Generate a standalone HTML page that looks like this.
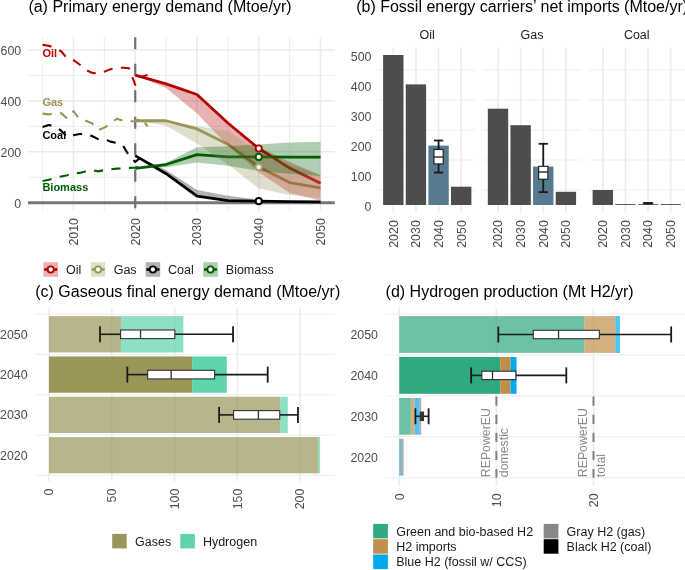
<!DOCTYPE html>
<html><head><meta charset="utf-8"><style>
html,body{margin:0;padding:0;background:#fff;}
svg{display:block;will-change:transform;font-family:"Liberation Sans",sans-serif;}
</style></head><body>
<svg width="685" height="570" viewBox="0 0 685 570">
<rect width="685" height="570" fill="#fff"/>
<text x="28.4" y="11.8" font-size="16.0" fill="#000" text-anchor="start" >(a) Primary energy demand (Mtoe/yr)</text>
<line x1="28" y1="177.25" x2="334.7" y2="177.25" stroke="#EBEBEB" stroke-width="0.9" />
<line x1="28" y1="126.35" x2="334.7" y2="126.35" stroke="#EBEBEB" stroke-width="0.9" />
<line x1="28" y1="75.45" x2="334.7" y2="75.45" stroke="#EBEBEB" stroke-width="0.9" />
<line x1="42.6" y1="37.2" x2="42.6" y2="210.7" stroke="#EBEBEB" stroke-width="0.9" />
<line x1="104.36" y1="37.2" x2="104.36" y2="210.7" stroke="#EBEBEB" stroke-width="0.9" />
<line x1="166.11" y1="37.2" x2="166.11" y2="210.7" stroke="#EBEBEB" stroke-width="0.9" />
<line x1="227.87" y1="37.2" x2="227.87" y2="210.7" stroke="#EBEBEB" stroke-width="0.9" />
<line x1="289.62" y1="37.2" x2="289.62" y2="210.7" stroke="#EBEBEB" stroke-width="0.9" />
<line x1="28" y1="202.7" x2="334.7" y2="202.7" stroke="#EBEBEB" stroke-width="1.6" />
<line x1="28" y1="151.8" x2="334.7" y2="151.8" stroke="#EBEBEB" stroke-width="1.6" />
<line x1="28" y1="100.9" x2="334.7" y2="100.9" stroke="#EBEBEB" stroke-width="1.6" />
<line x1="28" y1="50" x2="334.7" y2="50" stroke="#EBEBEB" stroke-width="1.6" />
<line x1="73.48" y1="37.2" x2="73.48" y2="210.7" stroke="#EBEBEB" stroke-width="1.6" />
<line x1="135.23" y1="37.2" x2="135.23" y2="210.7" stroke="#EBEBEB" stroke-width="1.6" />
<line x1="196.99" y1="37.2" x2="196.99" y2="210.7" stroke="#EBEBEB" stroke-width="1.6" />
<line x1="258.75" y1="37.2" x2="258.75" y2="210.7" stroke="#EBEBEB" stroke-width="1.6" />
<line x1="320.5" y1="37.2" x2="320.5" y2="210.7" stroke="#EBEBEB" stroke-width="1.6" />
<text x="21.2" y="203.3" font-size="12.4" fill="#4D4D4D" text-anchor="end" dy="0.35em">0</text>
<text x="21.2" y="152.4" font-size="12.4" fill="#4D4D4D" text-anchor="end" dy="0.35em">200</text>
<text x="21.2" y="101.5" font-size="12.4" fill="#4D4D4D" text-anchor="end" dy="0.35em">400</text>
<text x="21.2" y="50.6" font-size="12.4" fill="#4D4D4D" text-anchor="end" dy="0.35em">600</text>
<text transform="translate(73.48,218) rotate(-90)" font-size="12.4" fill="#4D4D4D" text-anchor="end" dy="0.35em">2010</text>
<text transform="translate(135.23,218) rotate(-90)" font-size="12.4" fill="#4D4D4D" text-anchor="end" dy="0.35em">2020</text>
<text transform="translate(196.99,218) rotate(-90)" font-size="12.4" fill="#4D4D4D" text-anchor="end" dy="0.35em">2030</text>
<text transform="translate(258.75,218) rotate(-90)" font-size="12.4" fill="#4D4D4D" text-anchor="end" dy="0.35em">2040</text>
<text transform="translate(320.5,218) rotate(-90)" font-size="12.4" fill="#4D4D4D" text-anchor="end" dy="0.35em">2050</text>
<line x1="28" y1="202.7" x2="334.7" y2="202.7" stroke="#777777" stroke-width="3.0" />
<line x1="135.23" y1="37.2" x2="135.23" y2="210.7" stroke="#707070" stroke-width="2.2" stroke-dasharray="12 14.5"/>
<polyline points="42.6,44.91 48.78,45.67 54.95,48.22 61.13,51.27 67.3,58.4 73.48,60.18 79.65,64.51 85.83,69.85 92,72.9 98.18,73.41 104.36,71.63 110.53,69.34 116.71,67.81 122.88,67.81 129.06,68.32 135.23,84.87 141.41,76.72 147.59,74.94" fill="none" stroke="#B50000" stroke-width="2.1" stroke-linejoin="round" stroke-dasharray="9.2 8.4" stroke-linecap="butt"/>
<polyline points="42.6,113.62 48.78,114.39 54.95,113.12 61.13,113.12 67.3,118.71 73.48,111.08 79.65,119.22 85.83,120.75 92,123.3 98.18,130.17 104.36,127.62 110.53,123.8 116.71,118.71 122.88,120.75 129.06,120.75 135.23,121.77 141.41,117.95 147.59,126.35" fill="none" stroke="#999658" stroke-width="2.1" stroke-linejoin="round" stroke-dasharray="9.2 8.4" stroke-linecap="butt"/>
<polyline points="42.6,127.11 48.78,125.08 54.95,126.35 61.13,130.68 67.3,137.04 73.48,135.26 79.65,133.98 85.83,133.98 92,136.02 98.18,139.07 104.36,139.07 110.53,141.62 116.71,142.89 122.88,145.44 129.06,155.62 135.23,161.98 141.41,156.89 147.59,155.62" fill="none" stroke="#000000" stroke-width="2.1" stroke-linejoin="round" stroke-dasharray="9.2 8.4" stroke-linecap="butt"/>
<polyline points="42.6,181.07 48.78,179.79 54.95,178.01 61.13,176.49 67.3,175.21 73.48,173.43 79.65,172.92 85.83,171.14 92,170.12 98.18,171.4 104.36,170.12 110.53,169.36 116.71,168.6 122.88,168.34 129.06,167.83 135.23,167.58 141.41,166.56 147.59,167.07" fill="none" stroke="#005E00" stroke-width="2.1" stroke-linejoin="round" stroke-dasharray="9.2 8.4" stroke-linecap="butt"/>
<polyline points="135.23,75.2 166.11,83.85 196.99,94.54 227.87,123.04 258.75,148.49 289.62,168.09 320.5,183.36" fill="none" stroke="#B50000" stroke-width="2.8" stroke-linejoin="round" />
<polyline points="135.23,120.75 166.11,120.75 196.99,128.89 227.87,144.16 258.75,167.07 289.62,182.59 320.5,187.94" fill="none" stroke="#999658" stroke-width="2.8" stroke-linejoin="round" />
<polyline points="135.23,155.62 166.11,173.69 196.99,196.08 227.87,200.66 258.75,201.17 289.62,201.68 320.5,201.94" fill="none" stroke="#000000" stroke-width="2.8" stroke-linejoin="round" />
<polyline points="135.23,168.34 166.11,164.52 196.99,154.6 227.87,156.89 258.75,156.89 289.62,157.14 320.5,157.14" fill="none" stroke="#005E00" stroke-width="2.8" stroke-linejoin="round" />
<polygon points="135.23,75.2 166.11,83.85 196.99,94.54 227.87,123.04 258.75,146.71 289.62,161.98 320.5,175.21 320.5,200.66 289.62,193.03 258.75,172.16 227.87,145.44 196.99,113.62 166.11,87.92 135.23,75.2" fill="#B50000" fill-opacity="0.3"/>
<polygon points="135.23,120.75 166.11,120.5 196.99,126.35 227.87,130.93 258.75,151.8 289.62,164.52 320.5,175.21 320.5,197.86 289.62,195.06 258.75,188.45 227.87,164.52 196.99,143.4 166.11,125.84 135.23,120.75" fill="#999658" fill-opacity="0.3"/>
<polygon points="135.23,155.62 166.11,170.12 196.99,189.97 227.87,195.83 258.75,199.65 289.62,201.17 320.5,201.68 320.5,202.45 289.62,202.19 258.75,201.68 227.87,200.66 196.99,196.08 166.11,173.69 135.23,155.62" fill="#000000" fill-opacity="0.3"/>
<polygon points="135.23,168.34 166.11,162.74 196.99,147.22 227.87,146.2 258.75,144.42 289.62,142.38 320.5,141.87 320.5,175.98 289.62,173.69 258.75,170.89 227.87,165.8 196.99,162.49 166.11,167.32 135.23,168.34" fill="#005E00" fill-opacity="0.3"/>
<circle cx="258.75" cy="148.49" r="3.1" fill="#fff" stroke="#B50000" stroke-width="1.9"/>
<circle cx="258.75" cy="156.89" r="3.1" fill="#fff" stroke="#005E00" stroke-width="1.9"/>
<circle cx="258.75" cy="167.07" r="3.1" fill="#fff" stroke="#A8A470" stroke-width="1.9"/>
<circle cx="258.75" cy="201.17" r="3.1" fill="#fff" stroke="#000000" stroke-width="1.9"/>
<g font-weight="bold" font-size="11">
<text x="42.4" y="56.8" font-size="11" fill="#B50000" text-anchor="start" >Oil</text>
<text x="42.4" y="106" font-size="11" fill="#999658" text-anchor="start" >Gas</text>
<text x="42.4" y="139" font-size="11" fill="#000" text-anchor="start" >Coal</text>
<text x="42.4" y="190.7" font-size="11" fill="#005E00" text-anchor="start" >Biomass</text>
</g>
<rect x="43.4" y="262.2" width="14.6" height="14.6" fill="#B50000" fill-opacity="0.3"/>
<line x1="44.2" y1="269.5" x2="57.2" y2="269.5" stroke="#B50000" stroke-width="2.6" />
<circle cx="50.7" cy="269.5" r="3.1" fill="#fff" stroke="#B50000" stroke-width="1.9"/>
<text x="66" y="269.5" font-size="12.5" fill="#1A1A1A" text-anchor="start" dy="0.35em">Oil</text>
<rect x="90.8" y="262.2" width="14.6" height="14.6" fill="#999658" fill-opacity="0.3"/>
<line x1="91.6" y1="269.5" x2="104.6" y2="269.5" stroke="#999658" stroke-width="2.6" />
<circle cx="98.1" cy="269.5" r="3.1" fill="#fff" stroke="#999658" stroke-width="1.9"/>
<text x="113.7" y="269.5" font-size="12.5" fill="#1A1A1A" text-anchor="start" dy="0.35em">Gas</text>
<rect x="145.6" y="262.2" width="14.6" height="14.6" fill="#000000" fill-opacity="0.3"/>
<line x1="146.4" y1="269.5" x2="159.4" y2="269.5" stroke="#000000" stroke-width="2.6" />
<circle cx="152.9" cy="269.5" r="3.1" fill="#fff" stroke="#000000" stroke-width="1.9"/>
<text x="168.1" y="269.5" font-size="12.5" fill="#1A1A1A" text-anchor="start" dy="0.35em">Coal</text>
<rect x="203.2" y="262.2" width="14.6" height="14.6" fill="#005E00" fill-opacity="0.3"/>
<line x1="204" y1="269.5" x2="217" y2="269.5" stroke="#005E00" stroke-width="2.6" />
<circle cx="210.5" cy="269.5" r="3.1" fill="#fff" stroke="#005E00" stroke-width="1.9"/>
<text x="225.8" y="269.5" font-size="12.5" fill="#1A1A1A" text-anchor="start" dy="0.35em">Biomass</text>
<text x="356.2" y="11.8" font-size="16.0" fill="#000" text-anchor="start" >(b) Fossil energy carriers’ net imports (Mtoe/yr)</text>
<text x="371.5" y="206.2" font-size="12.4" fill="#4D4D4D" text-anchor="end" dy="0.35em">0</text>
<text x="371.5" y="176.2" font-size="12.4" fill="#4D4D4D" text-anchor="end" dy="0.35em">100</text>
<text x="371.5" y="146.2" font-size="12.4" fill="#4D4D4D" text-anchor="end" dy="0.35em">200</text>
<text x="371.5" y="116.2" font-size="12.4" fill="#4D4D4D" text-anchor="end" dy="0.35em">300</text>
<text x="371.5" y="86.2" font-size="12.4" fill="#4D4D4D" text-anchor="end" dy="0.35em">400</text>
<text x="371.5" y="56.2" font-size="12.4" fill="#4D4D4D" text-anchor="end" dy="0.35em">500</text>
<line x1="378.82" y1="190" x2="475.67" y2="190" stroke="#EBEBEB" stroke-width="0.9" />
<line x1="378.82" y1="160" x2="475.67" y2="160" stroke="#EBEBEB" stroke-width="0.9" />
<line x1="378.82" y1="130" x2="475.67" y2="130" stroke="#EBEBEB" stroke-width="0.9" />
<line x1="378.82" y1="100" x2="475.67" y2="100" stroke="#EBEBEB" stroke-width="0.9" />
<line x1="378.82" y1="70" x2="475.67" y2="70" stroke="#EBEBEB" stroke-width="0.9" />
<line x1="393.3" y1="47.3" x2="393.3" y2="212.5" stroke="#EBEBEB" stroke-width="1.6" />
<line x1="415.93" y1="47.3" x2="415.93" y2="212.5" stroke="#EBEBEB" stroke-width="1.6" />
<line x1="438.56" y1="47.3" x2="438.56" y2="212.5" stroke="#EBEBEB" stroke-width="1.6" />
<line x1="461.19" y1="47.3" x2="461.19" y2="212.5" stroke="#EBEBEB" stroke-width="1.6" />
<text x="427.25" y="34.9" font-size="12.5" fill="#1A1A1A" text-anchor="middle" dy="0.35em">Oil</text>
<rect x="383.12" y="55" width="20.37" height="150" fill="#4D4D4D" />
<text transform="translate(393.3,220.2) rotate(-90)" font-size="12.4" fill="#4D4D4D" text-anchor="end" dy="0.35em">2020</text>
<rect x="405.75" y="84.4" width="20.37" height="120.6" fill="#4D4D4D" />
<text transform="translate(415.93,220.2) rotate(-90)" font-size="12.4" fill="#4D4D4D" text-anchor="end" dy="0.35em">2030</text>
<rect x="428.38" y="145.6" width="20.37" height="59.4" fill="#587A90" />
<text transform="translate(438.56,220.2) rotate(-90)" font-size="12.4" fill="#4D4D4D" text-anchor="end" dy="0.35em">2040</text>
<rect x="451.01" y="186.7" width="20.37" height="18.3" fill="#4D4D4D" />
<text transform="translate(461.19,220.2) rotate(-90)" font-size="12.4" fill="#4D4D4D" text-anchor="end" dy="0.35em">2050</text>
<line x1="438.56" y1="140.5" x2="438.56" y2="149.5" stroke="#1A1A1A" stroke-width="1.8" />
<line x1="438.56" y1="163.9" x2="438.56" y2="172.6" stroke="#1A1A1A" stroke-width="1.8" />
<line x1="433.96" y1="140.5" x2="443.16" y2="140.5" stroke="#1A1A1A" stroke-width="1.8" />
<line x1="433.96" y1="172.6" x2="443.16" y2="172.6" stroke="#1A1A1A" stroke-width="1.8" />
<rect x="433.96" y="149.5" width="9.2" height="14.4" fill="#fff" stroke="#1A1A1A" stroke-width="1.1"/>
<line x1="433.96" y1="157" x2="443.16" y2="157" stroke="#1A1A1A" stroke-width="1.3" />
<line x1="483.52" y1="190" x2="580.37" y2="190" stroke="#EBEBEB" stroke-width="0.9" />
<line x1="483.52" y1="160" x2="580.37" y2="160" stroke="#EBEBEB" stroke-width="0.9" />
<line x1="483.52" y1="130" x2="580.37" y2="130" stroke="#EBEBEB" stroke-width="0.9" />
<line x1="483.52" y1="100" x2="580.37" y2="100" stroke="#EBEBEB" stroke-width="0.9" />
<line x1="483.52" y1="70" x2="580.37" y2="70" stroke="#EBEBEB" stroke-width="0.9" />
<line x1="498" y1="47.3" x2="498" y2="212.5" stroke="#EBEBEB" stroke-width="1.6" />
<line x1="520.63" y1="47.3" x2="520.63" y2="212.5" stroke="#EBEBEB" stroke-width="1.6" />
<line x1="543.26" y1="47.3" x2="543.26" y2="212.5" stroke="#EBEBEB" stroke-width="1.6" />
<line x1="565.89" y1="47.3" x2="565.89" y2="212.5" stroke="#EBEBEB" stroke-width="1.6" />
<text x="531.94" y="34.9" font-size="12.5" fill="#1A1A1A" text-anchor="middle" dy="0.35em">Gas</text>
<rect x="487.82" y="108.7" width="20.37" height="96.3" fill="#4D4D4D" />
<text transform="translate(498,220.2) rotate(-90)" font-size="12.4" fill="#4D4D4D" text-anchor="end" dy="0.35em">2020</text>
<rect x="510.45" y="125.2" width="20.37" height="79.8" fill="#4D4D4D" />
<text transform="translate(520.63,220.2) rotate(-90)" font-size="12.4" fill="#4D4D4D" text-anchor="end" dy="0.35em">2030</text>
<rect x="533.08" y="166.6" width="20.37" height="38.4" fill="#587A90" />
<text transform="translate(543.26,220.2) rotate(-90)" font-size="12.4" fill="#4D4D4D" text-anchor="end" dy="0.35em">2040</text>
<rect x="555.71" y="191.8" width="20.37" height="13.2" fill="#4D4D4D" />
<text transform="translate(565.89,220.2) rotate(-90)" font-size="12.4" fill="#4D4D4D" text-anchor="end" dy="0.35em">2050</text>
<line x1="543.26" y1="143.8" x2="543.26" y2="166.3" stroke="#1A1A1A" stroke-width="1.8" />
<line x1="543.26" y1="179.2" x2="543.26" y2="192.1" stroke="#1A1A1A" stroke-width="1.8" />
<line x1="538.66" y1="143.8" x2="547.86" y2="143.8" stroke="#1A1A1A" stroke-width="1.8" />
<line x1="538.66" y1="192.1" x2="547.86" y2="192.1" stroke="#1A1A1A" stroke-width="1.8" />
<rect x="538.66" y="166.3" width="9.2" height="12.9" fill="#fff" stroke="#1A1A1A" stroke-width="1.1"/>
<line x1="538.66" y1="172" x2="547.86" y2="172" stroke="#1A1A1A" stroke-width="1.3" />
<line x1="588.32" y1="190" x2="685.17" y2="190" stroke="#EBEBEB" stroke-width="0.9" />
<line x1="588.32" y1="160" x2="685.17" y2="160" stroke="#EBEBEB" stroke-width="0.9" />
<line x1="588.32" y1="130" x2="685.17" y2="130" stroke="#EBEBEB" stroke-width="0.9" />
<line x1="588.32" y1="100" x2="685.17" y2="100" stroke="#EBEBEB" stroke-width="0.9" />
<line x1="588.32" y1="70" x2="685.17" y2="70" stroke="#EBEBEB" stroke-width="0.9" />
<line x1="602.8" y1="47.3" x2="602.8" y2="212.5" stroke="#EBEBEB" stroke-width="1.6" />
<line x1="625.43" y1="47.3" x2="625.43" y2="212.5" stroke="#EBEBEB" stroke-width="1.6" />
<line x1="648.06" y1="47.3" x2="648.06" y2="212.5" stroke="#EBEBEB" stroke-width="1.6" />
<line x1="670.69" y1="47.3" x2="670.69" y2="212.5" stroke="#EBEBEB" stroke-width="1.6" />
<text x="636.74" y="34.9" font-size="12.5" fill="#1A1A1A" text-anchor="middle" dy="0.35em">Coal</text>
<rect x="592.62" y="190" width="20.37" height="15" fill="#4D4D4D" />
<text transform="translate(602.8,220.2) rotate(-90)" font-size="12.4" fill="#4D4D4D" text-anchor="end" dy="0.35em">2020</text>
<rect x="615.25" y="204.1" width="20.37" height="0.9" fill="#4D4D4D" />
<text transform="translate(625.43,220.2) rotate(-90)" font-size="12.4" fill="#4D4D4D" text-anchor="end" dy="0.35em">2030</text>
<rect x="637.88" y="203.95" width="20.37" height="1.05" fill="#587A90" />
<text transform="translate(648.06,220.2) rotate(-90)" font-size="12.4" fill="#4D4D4D" text-anchor="end" dy="0.35em">2040</text>
<rect x="660.51" y="204.1" width="20.37" height="0.9" fill="#4D4D4D" />
<text transform="translate(670.69,220.2) rotate(-90)" font-size="12.4" fill="#4D4D4D" text-anchor="end" dy="0.35em">2050</text>
<line x1="648.06" y1="203.05" x2="648.06" y2="203.2" stroke="#1A1A1A" stroke-width="1.8" />
<line x1="648.06" y1="203.5" x2="648.06" y2="203.65" stroke="#1A1A1A" stroke-width="1.8" />
<line x1="643.46" y1="203.05" x2="652.66" y2="203.05" stroke="#1A1A1A" stroke-width="1.8" />
<line x1="643.46" y1="203.65" x2="652.66" y2="203.65" stroke="#1A1A1A" stroke-width="1.8" />
<rect x="643.46" y="203.2" width="9.2" height="0.3" fill="#fff" stroke="#1A1A1A" stroke-width="1.1"/>
<line x1="643.46" y1="203.35" x2="652.66" y2="203.35" stroke="#1A1A1A" stroke-width="1.3" />
<text x="35.2" y="297.3" font-size="16.0" fill="#000" text-anchor="start" >(c) Gaseous final energy demand (Mtoe/yr)</text>
<line x1="35.5" y1="475.35" x2="334.7" y2="475.35" stroke="#EBEBEB" stroke-width="0.9" />
<line x1="35.5" y1="435.05" x2="334.7" y2="435.05" stroke="#EBEBEB" stroke-width="0.9" />
<line x1="35.5" y1="394.75" x2="334.7" y2="394.75" stroke="#EBEBEB" stroke-width="0.9" />
<line x1="35.5" y1="354.45" x2="334.7" y2="354.45" stroke="#EBEBEB" stroke-width="0.9" />
<line x1="35.5" y1="314.15" x2="334.7" y2="314.15" stroke="#EBEBEB" stroke-width="0.9" />
<line x1="49" y1="307.9" x2="49" y2="481.2" stroke="#EBEBEB" stroke-width="1.6" />
<text transform="translate(49,488.6) rotate(-90)" font-size="12.4" fill="#4D4D4D" text-anchor="end" dy="0.35em">0</text>
<line x1="111.78" y1="307.9" x2="111.78" y2="481.2" stroke="#EBEBEB" stroke-width="1.6" />
<text transform="translate(111.78,488.6) rotate(-90)" font-size="12.4" fill="#4D4D4D" text-anchor="end" dy="0.35em">50</text>
<line x1="174.55" y1="307.9" x2="174.55" y2="481.2" stroke="#EBEBEB" stroke-width="1.6" />
<text transform="translate(174.55,488.6) rotate(-90)" font-size="12.4" fill="#4D4D4D" text-anchor="end" dy="0.35em">100</text>
<line x1="237.33" y1="307.9" x2="237.33" y2="481.2" stroke="#EBEBEB" stroke-width="1.6" />
<text transform="translate(237.33,488.6) rotate(-90)" font-size="12.4" fill="#4D4D4D" text-anchor="end" dy="0.35em">150</text>
<line x1="300.1" y1="307.9" x2="300.1" y2="481.2" stroke="#EBEBEB" stroke-width="1.6" />
<text transform="translate(300.1,488.6) rotate(-90)" font-size="12.4" fill="#4D4D4D" text-anchor="end" dy="0.35em">200</text>
<text x="27.6" y="455.2" font-size="12.4" fill="#4D4D4D" text-anchor="end" dy="0.35em">2020</text>
<text x="27.6" y="414.9" font-size="12.4" fill="#4D4D4D" text-anchor="end" dy="0.35em">2030</text>
<text x="27.6" y="374.6" font-size="12.4" fill="#4D4D4D" text-anchor="end" dy="0.35em">2040</text>
<text x="27.6" y="334.3" font-size="12.4" fill="#4D4D4D" text-anchor="end" dy="0.35em">2050</text>
<rect x="49" y="316.15" width="72.07" height="36.3" fill="#9A9659" fill-opacity="0.7"/>
<rect x="121.07" y="316.15" width="62.27" height="36.3" fill="#5DD3AE" fill-opacity="0.7"/>
<line x1="99.97" y1="334.3" x2="120.56" y2="334.3" stroke="#1A1A1A" stroke-width="1.6" />
<line x1="174.8" y1="334.3" x2="233.06" y2="334.3" stroke="#1A1A1A" stroke-width="1.6" />
<line x1="99.97" y1="326.3" x2="99.97" y2="342.3" stroke="#1A1A1A" stroke-width="1.8" />
<line x1="233.06" y1="326.3" x2="233.06" y2="342.3" stroke="#1A1A1A" stroke-width="1.8" />
<rect x="120.56" y="330" width="54.24" height="8.6" fill="#fff" stroke="#333" stroke-width="1.1"/>
<line x1="140.53" y1="330" x2="140.53" y2="338.6" stroke="#333" stroke-width="1.3" />
<rect x="49" y="356.45" width="143.13" height="36.3" fill="#9A9659" />
<rect x="192.13" y="356.45" width="34.65" height="36.3" fill="#5DD3AE" />
<line x1="127.34" y1="374.6" x2="147.68" y2="374.6" stroke="#1A1A1A" stroke-width="1.6" />
<line x1="214.6" y1="374.6" x2="267.71" y2="374.6" stroke="#1A1A1A" stroke-width="1.6" />
<line x1="127.34" y1="366.6" x2="127.34" y2="382.6" stroke="#1A1A1A" stroke-width="1.8" />
<line x1="267.71" y1="366.6" x2="267.71" y2="382.6" stroke="#1A1A1A" stroke-width="1.8" />
<rect x="147.68" y="370.3" width="66.92" height="8.6" fill="#fff" stroke="#333" stroke-width="1.1"/>
<line x1="171.16" y1="370.3" x2="171.16" y2="378.9" stroke="#333" stroke-width="1.3" />
<rect x="49" y="396.75" width="231.14" height="36.3" fill="#9A9659" fill-opacity="0.7"/>
<rect x="280.14" y="396.75" width="7.66" height="36.3" fill="#5DD3AE" fill-opacity="0.7"/>
<line x1="219.12" y1="414.9" x2="233.56" y2="414.9" stroke="#1A1A1A" stroke-width="1.6" />
<line x1="279.76" y1="414.9" x2="297.97" y2="414.9" stroke="#1A1A1A" stroke-width="1.6" />
<line x1="219.12" y1="406.9" x2="219.12" y2="422.9" stroke="#1A1A1A" stroke-width="1.8" />
<line x1="297.97" y1="406.9" x2="297.97" y2="422.9" stroke="#1A1A1A" stroke-width="1.8" />
<rect x="233.56" y="410.6" width="46.2" height="8.6" fill="#fff" stroke="#333" stroke-width="1.1"/>
<line x1="258.42" y1="410.6" x2="258.42" y2="419.2" stroke="#333" stroke-width="1.3" />
<rect x="49" y="437.05" width="269.18" height="36.3" fill="#9A9659" fill-opacity="0.7"/>
<rect x="318.18" y="437.05" width="1.88" height="36.3" fill="#5DD3AE" fill-opacity="0.7"/>
<rect x="112.2" y="533.9" width="14.5" height="14.5" fill="#9A9659" />
<text x="135" y="541.2" font-size="12.5" fill="#1A1A1A" text-anchor="start" dy="0.35em">Gases</text>
<rect x="180.3" y="533.9" width="14.5" height="14.5" fill="#5DD3AE" />
<text x="202.9" y="541.2" font-size="12.5" fill="#1A1A1A" text-anchor="start" dy="0.35em">Hydrogen</text>
<text x="385.6" y="297.3" font-size="16.0" fill="#000" text-anchor="start" >(d) Hydrogen production (Mt H2/yr)</text>
<line x1="385.8" y1="477.65" x2="685" y2="477.65" stroke="#EBEBEB" stroke-width="0.9" />
<line x1="385.8" y1="436.75" x2="685" y2="436.75" stroke="#EBEBEB" stroke-width="0.9" />
<line x1="385.8" y1="395.85" x2="685" y2="395.85" stroke="#EBEBEB" stroke-width="0.9" />
<line x1="385.8" y1="354.95" x2="685" y2="354.95" stroke="#EBEBEB" stroke-width="0.9" />
<line x1="385.8" y1="314.05" x2="685" y2="314.05" stroke="#EBEBEB" stroke-width="0.9" />
<line x1="399.3" y1="308" x2="399.3" y2="485.9" stroke="#EBEBEB" stroke-width="1.6" />
<text transform="translate(399.3,493.4) rotate(-90)" font-size="12.4" fill="#4D4D4D" text-anchor="end" dy="0.35em">0</text>
<line x1="496.4" y1="308" x2="496.4" y2="485.9" stroke="#EBEBEB" stroke-width="1.6" />
<text transform="translate(496.4,493.4) rotate(-90)" font-size="12.4" fill="#4D4D4D" text-anchor="end" dy="0.35em">10</text>
<line x1="593.5" y1="308" x2="593.5" y2="485.9" stroke="#EBEBEB" stroke-width="1.6" />
<text transform="translate(593.5,493.4) rotate(-90)" font-size="12.4" fill="#4D4D4D" text-anchor="end" dy="0.35em">20</text>
<text x="378" y="457.2" font-size="12.4" fill="#4D4D4D" text-anchor="end" dy="0.35em">2020</text>
<text x="378" y="416.3" font-size="12.4" fill="#4D4D4D" text-anchor="end" dy="0.35em">2030</text>
<text x="378" y="375.4" font-size="12.4" fill="#4D4D4D" text-anchor="end" dy="0.35em">2040</text>
<text x="378" y="334.5" font-size="12.4" fill="#4D4D4D" text-anchor="end" dy="0.35em">2050</text>
<rect x="399.3" y="316.1" width="184.98" height="36.8" fill="#2EAA7E" fill-opacity="0.7"/>
<rect x="584.28" y="316.1" width="31.07" height="36.8" fill="#C28E4B" fill-opacity="0.7"/>
<rect x="615.35" y="316.1" width="4.56" height="36.8" fill="#00A9EC" fill-opacity="0.7"/>
<rect x="399.3" y="357" width="100.89" height="36.8" fill="#2EAA7E" />
<rect x="500.19" y="357" width="10.29" height="36.8" fill="#C28E4B" />
<rect x="510.48" y="357" width="6.02" height="36.8" fill="#00A9EC" />
<rect x="399.3" y="397.9" width="11.55" height="36.8" fill="#2EAA7E" fill-opacity="0.7"/>
<rect x="410.85" y="397.9" width="3.79" height="36.8" fill="#C28E4B" fill-opacity="0.7"/>
<rect x="414.64" y="397.9" width="4.56" height="36.8" fill="#00A9EC" fill-opacity="0.7"/>
<rect x="419.21" y="397.9" width="1.94" height="36.8" fill="#888888" fill-opacity="0.7"/>
<rect x="399.3" y="438.8" width="1.65" height="36.8" fill="#00A9EC" fill-opacity="0.7"/>
<rect x="400.95" y="438.8" width="2.62" height="36.8" fill="#888888" fill-opacity="0.7"/>
<line x1="496.4" y1="396.6" x2="496.4" y2="477.65" stroke="#808080" stroke-width="2.0" stroke-dasharray="9.2 8.9"/>
<text transform="translate(489.8,477.2) rotate(-90)" font-size="12.3" fill="#8a8a8a">REPowerEU</text>
<text transform="translate(508,477.2) rotate(-90)" font-size="12.3" fill="#8a8a8a">domestic</text>
<line x1="593.5" y1="396.6" x2="593.5" y2="477.65" stroke="#808080" stroke-width="2.0" stroke-dasharray="9.2 8.9"/>
<text transform="translate(586.9,477.2) rotate(-90)" font-size="12.3" fill="#8a8a8a">REPowerEU</text>
<text transform="translate(605.1,477.2) rotate(-90)" font-size="12.3" fill="#8a8a8a">total</text>
<line x1="498.34" y1="334.5" x2="533.3" y2="334.5" stroke="#1A1A1A" stroke-width="1.6" />
<line x1="599.33" y1="334.5" x2="671.18" y2="334.5" stroke="#1A1A1A" stroke-width="1.6" />
<line x1="498.34" y1="326.5" x2="498.34" y2="342.5" stroke="#1A1A1A" stroke-width="1.8" />
<line x1="671.18" y1="326.5" x2="671.18" y2="342.5" stroke="#1A1A1A" stroke-width="1.8" />
<rect x="533.3" y="330.3" width="66.03" height="8.4" fill="#fff" stroke="#333" stroke-width="1.1"/>
<line x1="558.54" y1="330.3" x2="558.54" y2="338.7" stroke="#333" stroke-width="1.3" />
<line x1="471.15" y1="375.4" x2="481.84" y2="375.4" stroke="#1A1A1A" stroke-width="1.6" />
<line x1="515.82" y1="375.4" x2="566.31" y2="375.4" stroke="#1A1A1A" stroke-width="1.6" />
<line x1="471.15" y1="367.4" x2="471.15" y2="383.4" stroke="#1A1A1A" stroke-width="1.8" />
<line x1="566.31" y1="367.4" x2="566.31" y2="383.4" stroke="#1A1A1A" stroke-width="1.8" />
<rect x="481.84" y="371.2" width="33.99" height="8.4" fill="#fff" stroke="#333" stroke-width="1.1"/>
<line x1="492.52" y1="371.2" x2="492.52" y2="379.6" stroke="#333" stroke-width="1.3" />
<line x1="415.42" y1="416.3" x2="420.27" y2="416.3" stroke="#1A1A1A" stroke-width="1.6" />
<line x1="423.48" y1="416.3" x2="428.62" y2="416.3" stroke="#1A1A1A" stroke-width="1.6" />
<line x1="415.42" y1="408.3" x2="415.42" y2="424.3" stroke="#1A1A1A" stroke-width="1.8" />
<line x1="428.62" y1="408.3" x2="428.62" y2="424.3" stroke="#1A1A1A" stroke-width="1.8" />
<rect x="420.27" y="412.1" width="3.2" height="8.4" fill="#333" stroke="#333" stroke-width="1.1"/>
<line x1="421.63" y1="412.1" x2="421.63" y2="420.5" stroke="#333" stroke-width="1.3" />
<rect x="373.2" y="523.9" width="14.7" height="14.5" fill="#2EAA7E" />
<text x="396.2" y="531.2" font-size="12.5" fill="#1A1A1A" text-anchor="start" dy="0.35em">Green and bio-based H2</text>
<rect x="373.2" y="539.2" width="14.7" height="14.5" fill="#C28E4B" />
<text x="396.2" y="546.5" font-size="12.5" fill="#1A1A1A" text-anchor="start" dy="0.35em">H2 imports</text>
<rect x="373.2" y="554.5" width="14.7" height="14.5" fill="#00A9EC" />
<text x="396.2" y="561.8" font-size="12.5" fill="#1A1A1A" text-anchor="start" dy="0.35em">Blue H2 (fossil w/ CCS)</text>
<rect x="543.7" y="523.9" width="14.7" height="14.5" fill="#888888" />
<text x="566.6" y="531.2" font-size="12.5" fill="#1A1A1A" text-anchor="start" dy="0.35em">Gray H2 (gas)</text>
<rect x="543.7" y="539.2" width="14.7" height="14.5" fill="#000" />
<text x="566.6" y="546.5" font-size="12.5" fill="#1A1A1A" text-anchor="start" dy="0.35em">Black H2 (coal)</text>
</svg>
</body></html>
